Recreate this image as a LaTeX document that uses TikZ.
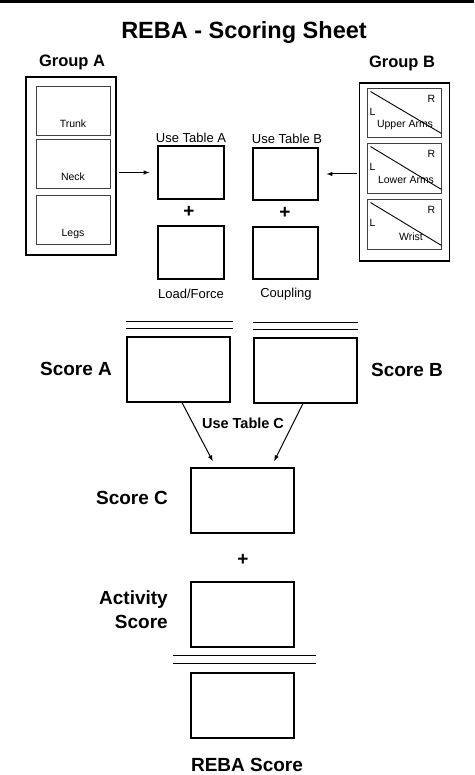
\documentclass[tikz,border=0pt]{standalone}
\usepackage{fontspec}
\setmainfont{Liberation Sans}
\usetikzlibrary{arrows}
\usetikzlibrary{calc}

\begin{document}
\begin{tikzpicture}[x=1pt,y=-1pt]
	\tikzstyle{boite}=[rectangle,draw,line width=1.2pt,minimum width=103pt,minimum height=65pt,inner sep=0pt]
	\tikzstyle{petite}=[rectangle,draw,line width=1.2pt,minimum width=66pt,minimum height=53pt,inner sep=0pt]
	\tikzstyle{groupe}=[rectangle,draw,line width=1.8pt,minimum width=90pt,minimum height=178pt,inner sep=0pt]
	\tikzstyle{case}=[rectangle,draw=black!75,line width=0.9pt,minimum width=74pt,minimum height=49pt,inner sep=0pt]
	\tikzstyle{titre}=[font=\fontsize{23.5}{28}\selectfont\bfseries,inner sep=0pt]
	\tikzstyle{gros}=[font=\fontsize{19}{24}\selectfont\bfseries,inner sep=0pt]
	\tikzstyle{moyen}=[font=\fontsize{13}{15}\selectfont,inner sep=0pt]
	\tikzstyle{petit}=[font=\fontsize{10.5}{12}\selectfont,inner sep=0pt]
	\tikzstyle{fleche}=[-latex,line width=1pt]
	\useasboundingbox (0,0) rectangle (474,775);
	\fill (0,0) rectangle (474,3);
	\node[titre] (T) at (244,32) {REBA - Scoring Sheet};
	\node[gros,font=\fontsize{16.5}{20}\selectfont\bfseries] (GAl) at (72,62) {Group A};
	\node[gros,font=\fontsize{16.5}{20}\selectfont\bfseries] (GBl) at (402,63) {Group B};
	\node[groupe] (GA) at (71,166) {};
	\node[case] (TR) at (73,110.5) {};
	\node[case] (NE) at (73,164) {};
	\node[case] (LE) at (73,219.5) {};
	\node[petit,anchor=base] (TRl) at ($(TR.south)+(0,-8)$) {Trunk};
	\node[petit,anchor=base] (NEl) at ($(NE.south)+(0,-8)$) {Neck};
	\node[petit,anchor=base] (LEl) at ($(LE.south)+(0,-8)$) {Legs};
	\node[groupe] (GB) at (404.5,172) {};
	\node[case] (UA) at (404,112.5) {};
	\node[case,minimum height=50pt] (LA) at (404,168) {};
	\node[case,minimum height=50pt] (WR) at (404,224) {};
	\draw[line width=0.9pt] ($(UA.north west)+(4,4)$) -- ($(UA.south east)+(0,-4)$);
	\draw[line width=0.9pt] ($(LA.north west)+(4,4)$) -- ($(LA.south east)+(0,-4)$);
	\draw[line width=0.9pt] ($(WR.north west)+(4,4)$) -- ($(WR.south east)+(0,-4)$);
	\node[petit,anchor=base] (UAr) at ($(UA.north east)+(-10,15)$) {R};
	\node[petit,anchor=base] (LAr) at ($(LA.north east)+(-10,15)$) {R};
	\node[petit,anchor=base] (WRr) at ($(WR.north east)+(-10,15)$) {R};
	\node[petit,anchor=base] (UAl) at ($(UA.north west)+(6,28)$) {L};
	\node[petit,anchor=base] (LAl) at ($(LA.north west)+(6,28)$) {L};
	\node[petit,anchor=base] (WRl) at ($(WR.north west)+(6,28)$) {L};
	\node[petit,anchor=base] (UAt) at ($(UA.south)+(1,-10)$) {Upper Arms};
	\node[petit,anchor=base] (LAt) at ($(LA.south)+(2,-10)$) {Lower Arms};
	\node[petit,anchor=base] (WRt) at ($(WR.south)+(7,-9)$) {Wrist};
	\node[petite] (TA) at (191,172.5) {};
	\node[moyen] (TAl) at (191,138) {Use Table A};
	\node[gros] (P1) at (189,212) {+};
	\node[petite] (LF) at (191,252.5) {};
	\node[moyen] (LFl) at (191,294) {Load/Force};
	\node[petite,minimum width=65pt,minimum height=52pt] (TB) at (285.5,174) {};
	\node[moyen] (TBl) at (287,139) {Use Table B};
	\node[gros] (P2) at (285,213) {+};
	\node[petite,minimum width=65pt,minimum height=52pt] (CP) at (285.5,253) {};
	\node[moyen] (CPl) at (286,294) {Coupling};
	\draw[fleche,shorten <=2pt,shorten >=8pt] (GA.east |- TA.west) -- (TA.west);
	\draw[fleche,shorten <=2pt,shorten >=8pt] (GB.west |- TB.east) -- (TB.east);
	\node[boite] (SA) at (178.5,369.5) {};
	\node[boite] (SB) at (305.5,370.5) {};
	\draw[line width=1.2pt] ($(SA.north west)+(0,-15)$) -- ($(SA.north east)+(2,-15)$);
	\draw[line width=1.2pt] ($(SA.north west)+(0,-8)$) -- ($(SA.north east)+(2,-8)$);
	\draw[line width=1.2pt] ($(SB.north west)+(0,-15)$) -- ($(SB.north east)+(0,-15)$);
	\draw[line width=1.2pt] ($(SB.north west)+(0,-8)$) -- ($(SB.north east)+(0,-8)$);
	\node[gros] (SAl) at (76,369) {Score A};
	\node[gros] (SBl) at (407,370) {Score B};
	\node[boite] (SC) at (242.5,500.5) {};
	\node[gros,font=\fontsize{14.5}{17}\selectfont\bfseries] (TC) at (243,423) {Use Table C};
	\draw[fleche,shorten >=7pt] ([xshift=3.5pt]SA.south) -- ([xshift=-26.5pt]SC.north);
	\draw[fleche,shorten >=7pt] ([xshift=-2.5pt]SB.south) -- ([xshift=28.5pt]SC.north);
	\node[gros] (SCl) at (132,498) {Score C};
	\node[gros] (P3) at (243,560) {+};
	\node[boite] (AS) at (242.5,614.5) {};
	\node[gros,align=right,anchor=east] (ASl) at (168,610) {Activity\\Score};
	\node[boite] (RS) at (242.5,705.5) {};
	\draw[line width=1.2pt] ($(AS.south west)+(-17,8)$) -- ($(AS.south east)+(21,8)$);
	\draw[line width=1.2pt] ($(AS.south west)+(-17,16)$) -- ($(AS.south east)+(21,16)$);
	\node[gros] (RSl) at (247,765) {REBA Score};
\end{tikzpicture}
\end{document}
